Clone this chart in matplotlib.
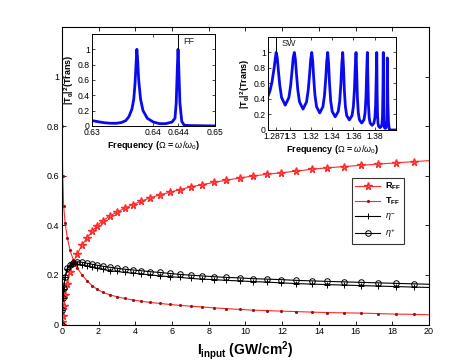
import matplotlib
matplotlib.use("Agg")
import matplotlib.pyplot as plt
import numpy as np

plt.rcParams['font.family'] = ['Liberation Sans', 'DejaVu Sans']
plt.rcParams['mathtext.fontset'] = 'custom'
plt.rcParams['mathtext.rm'] = 'Liberation Sans'
plt.rcParams['mathtext.it'] = 'Liberation Sans:italic'
plt.rcParams['mathtext.bf'] = 'Liberation Sans:bold'

# ---------------- main data ----------------
I_input = [0, 0.01, 0.05, 0.1, 0.18, 0.3, 0.45, 0.62, 0.84, 1.1,
           1.38, 1.65, 1.93, 2.23, 2.6, 3.0, 3.42, 3.87, 4.32, 4.81,
           5.34, 5.87, 6.43, 7.02, 7.62, 8.28, 8.96, 9.68, 10.4, 11.17,
           11.96, 12.78, 13.6, 14.45, 15.37, 16.28, 17.24, 18.18, 19.18, 20.2]
R_FF = [0, 0.01, 0.035, 0.073, 0.12, 0.165, 0.21, 0.25, 0.285, 0.32,
        0.35, 0.376, 0.399, 0.418, 0.437, 0.454, 0.469, 0.484, 0.497, 0.511,
        0.523, 0.533, 0.544, 0.555, 0.564, 0.573, 0.582, 0.591, 0.599, 0.606,
        0.612, 0.619, 0.626, 0.632, 0.637, 0.642, 0.647, 0.652, 0.657, 0.662]
T_FF = [1.0, 0.8, 0.6, 0.48, 0.41, 0.35, 0.3, 0.262, 0.228, 0.2,
        0.176, 0.157, 0.142, 0.13, 0.12, 0.112, 0.105, 0.099, 0.094, 0.089,
        0.085, 0.081, 0.077, 0.074, 0.071, 0.067, 0.064, 0.061, 0.058, 0.056,
        0.054, 0.052, 0.05, 0.048, 0.047, 0.046, 0.044, 0.042, 0.041, 0.039]
eta_minus = [0, 0.057, 0.105, 0.145, 0.19, 0.224, 0.238, 0.244, 0.244, 0.24,
             0.236, 0.231, 0.226, 0.222, 0.217, 0.214, 0.21, 0.207, 0.204, 0.2,
             0.196, 0.193, 0.19, 0.186, 0.183, 0.181, 0.178, 0.176, 0.173, 0.171,
             0.168, 0.165, 0.163, 0.161, 0.159, 0.157, 0.155, 0.153, 0.151, 0.149]
eta_plus = [0, 0.06, 0.107, 0.147, 0.193, 0.227, 0.242, 0.25, 0.253, 0.251,
            0.247, 0.243, 0.239, 0.235, 0.231, 0.227, 0.223, 0.22, 0.217, 0.213,
            0.21, 0.206, 0.202, 0.199, 0.196, 0.193, 0.19, 0.188, 0.185, 0.183,
            0.181, 0.178, 0.176, 0.174, 0.172, 0.17, 0.168, 0.166, 0.164, 0.162]
main_xticks = [0, 2, 4, 6, 8, 10, 12, 14, 16, 18, 20]
main_yticks = [0, 0.2, 0.4, 0.6, 0.8, 1]
main_yticklabels = ['0', '0.2', '0.4', '0.6', '0.8', '1']

# ---------------- FF inset data ----------------
ff_freq = [0.630, 0.631, 0.632, 0.633, 0.634, 0.6348, 0.6355, 0.636, 0.6365, 0.6368,
           0.637, 0.6372, 0.6373, 0.6374, 0.6376, 0.6379, 0.6383, 0.639, 0.640, 0.641,
           0.642, 0.643, 0.6435, 0.6437, 0.6439, 0.644, 0.6441, 0.6443, 0.6446, 0.645,
           0.646, 0.650]
ff_trans = [0.07, 0.055, 0.042, 0.035, 0.035, 0.045, 0.07, 0.12, 0.22, 0.35,
            0.55, 0.85, 1.0, 0.9, 0.6, 0.35, 0.2, 0.1, 0.05, 0.03,
            0.03, 0.05, 0.1, 0.3, 0.8, 1.0, 0.8, 0.3, 0.06, 0.01,
            0.005, 0.0]
ff_xticks = [0.63, 0.64, 0.644, 0.65]
ff_xticklabels = ['0.63', '0.64', '0.644', '0.65']
ff_mark = 0.644

# ---------------- SW inset data ----------------
sw_head_freq = [1.279, 1.281, 1.283, 1.285, 1.2862]
sw_head_trans = [0.43, 0.5, 0.62, 0.8, 0.93]
sw_peak_freq = [1.2869, 1.3041, 1.3206, 1.3357, 1.3499, 1.3625, 1.3732, 1.3821, 1.3883, 1.3921]
sw_peak_trans = [1, 1, 1, 1, 1, 1, 1, 1, 1, 0.93]
sw_fractions = [0.06, 0.12, 0.2, 0.3, 0.5, 0.7, 0.8, 0.88, 0.94]
sw_between = [
    [0.935, 0.776, 0.577, 0.418, 0.32, 0.418, 0.577, 0.776, 0.935],
    [0.914, 0.732, 0.517, 0.361, 0.27, 0.361, 0.517, 0.732, 0.914],
    [0.89, 0.676, 0.45, 0.301, 0.22, 0.301, 0.45, 0.676, 0.89],
    [0.854, 0.602, 0.372, 0.238, 0.17, 0.238, 0.372, 0.602, 0.854],
    [0.81, 0.524, 0.302, 0.186, 0.13, 0.186, 0.302, 0.524, 0.81],
    [0.739, 0.422, 0.223, 0.131, 0.09, 0.131, 0.223, 0.422, 0.739],
    [0.646, 0.32, 0.156, 0.089, 0.06, 0.089, 0.156, 0.32, 0.646],
    [0.47, 0.186, 0.082, 0.045, 0.03, 0.045, 0.082, 0.186, 0.47],
    [0.37, 0.13, 0.056, 0.03, 0.02, 0.03, 0.056, 0.13, 0.35],
]
sw_tail_freq = [1.3926, 1.3932, 1.394, 1.3955, 1.40]
sw_tail_trans = [0.35, 0.1, 0.01, 0.0, 0.0]
sw_xticks = [1.2871, 1.3, 1.32, 1.34, 1.36, 1.38]
sw_xticklabels = ['1.2871', '1.3', '1.32', '1.34', '1.36', '1.38']
sw_mark = 1.2871

inset_yticks = [0, 0.2, 0.4, 0.6, 0.8, 1]
inset_yticklabels = ['0', '0.2', '0.4', '0.6', '0.8', '1']

# assemble SW spectrum from the read values
sw_f = list(sw_head_freq)
sw_t = list(sw_head_trans)
for i in range(len(sw_peak_freq)):
    sw_f.append(sw_peak_freq[i]); sw_t.append(sw_peak_trans[i])
    if i < len(sw_between):
        p0, p1 = sw_peak_freq[i], sw_peak_freq[i + 1]
        for fr, val in zip(sw_fractions, sw_between[i]):
            sw_f.append(p0 + fr * (p1 - p0)); sw_t.append(val)
sw_f += sw_tail_freq
sw_t += sw_tail_trans

# ---------------- figure ----------------
fig = plt.figure(figsize=(4.74, 3.64), dpi=100)
ax = fig.add_axes([0.1304, 0.1085, 0.7747, 0.8173])

ax.plot(I_input, R_FF, color='#ff2a2a', lw=0.8, marker='*', ms=5.5,
        mec='#ff2a2a', mfc='#ff6a6a', label=r'$\mathbf{R_{FF}}$')
ax.plot(I_input, T_FF, color='#ff2a2a', lw=0.8, marker='.', ms=2.5,
        mec='#a01010', mfc='#a01010', label=r'$\mathbf{T_{FF}}$')
ax.plot(I_input, eta_minus, color='black', lw=0.8, marker='+', ms=4.5,
        mew=0.7, label=r'$\eta^{-}$')
ax.plot(I_input, eta_plus, color='black', lw=0.8, marker='o', ms=4,
        mfc='none', mew=0.7, label=r'$\eta^{+}$')

ax.set_xlim(0, 20)
ax.set_ylim(0, 1.2)
ax.set_xticks(main_xticks)
ax.set_yticks(main_yticks)
ax.set_yticklabels(main_yticklabels)
ax.tick_params(direction='in', length=3, width=0.6, labelsize=6.5,
               top=True, right=True, pad=2)
for s in ax.spines.values():
    s.set_linewidth(0.8)
ax.set_xlabel(r'$\mathbf{I_{input}}$ (GW/cm$^\mathbf{2}$)', fontsize=10,
              fontweight='bold', labelpad=2)

leg = ax.legend(loc='upper left', bbox_to_anchor=(0.79, 0.494), fontsize=6.5,
                frameon=True, fancybox=False, edgecolor='black',
                handlelength=2.8, labelspacing=0.42, borderpad=0.35,
                handletextpad=0.5, borderaxespad=0)
leg.get_frame().set_linewidth(0.8)

def style_inset(a):
    a.tick_params(direction='in', length=2, width=0.5, labelsize=6.2,
                  top=True, right=True, pad=1.5)
    for s in a.spines.values():
        s.set_linewidth(0.7)
    a.set_ylim(0, 1.2)
    a.set_yticks(inset_yticks)
    a.set_yticklabels(inset_yticklabels)
    a.set_ylabel(r'|T$_\mathbf{0}$|$^\mathbf{2}$(Trans)', fontsize=6.5,
                 fontweight='bold', labelpad=1)
    a.set_xlabel(r'Frequency ($\Omega$ = $\omega/\omega_0$)', fontsize=6.5,
                 fontweight='bold', labelpad=1.5)

# FF inset
ax1 = fig.add_axes([0.194, 0.654, 0.2595, 0.2527])
ax1.plot(ff_freq, ff_trans, color='#0a0af0', lw=2)
ax1.set_xlim(0.63, 0.65)
ax1.set_xticks(ff_xticks)
ax1.set_xticklabels(ff_xticklabels)
style_inset(ax1)
ax1.plot([ff_mark, ff_mark], [1.0, 1.2], color='black', lw=0.7)
ax1.text(ff_mark + 0.0008, 1.07, 'FF', fontsize=6.5, color='#222222')

# SW inset
ax2 = fig.add_axes([0.5654, 0.6429, 0.27, 0.2555])
ax2.plot(sw_f, sw_t, color='#0a0af0', lw=2)
ax2.set_xlim(1.2792, 1.4003)
ax2.set_xticks(sw_xticks)
ax2.set_xticklabels(sw_xticklabels)
style_inset(ax2)
ax2.plot([sw_mark, sw_mark], [1.02, 1.2], color='black', lw=0.7)
ax2.text(sw_mark + 0.005, 1.08, 'SW', fontsize=6.5, color='#222222')

fig.savefig('out.png', dpi=100)
